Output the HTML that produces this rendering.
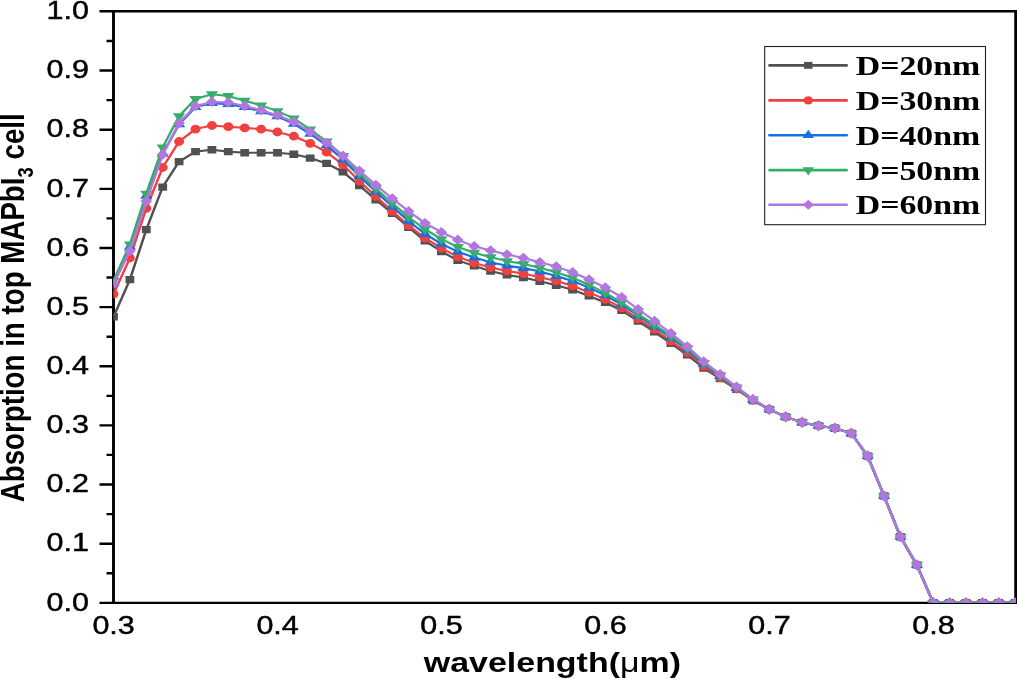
<!DOCTYPE html>
<html lang="en"><head><meta charset="utf-8"><title>Absorption in top MAPbI3 cell</title>
<style>
html,body{margin:0;padding:0;background:#fff;}
body{width:1017px;height:679px;overflow:hidden;}
svg{display:block;}
.tk{font-family:"Liberation Sans",Arial,sans-serif;font-size:25.4px;fill:#000;stroke:#000;stroke-width:0.45px;}
.ax{font-family:"Liberation Sans",Arial,sans-serif;font-size:24px;font-weight:bold;fill:#000;}
.lg{font-family:"Liberation Serif","Times New Roman",serif;font-size:26.6px;font-weight:bold;fill:#000;}
</style></head><body>
<svg width="1017" height="679" viewBox="0 0 1017 679">
<rect width="1017" height="679" fill="#fff"/>
<defs><clipPath id="plot"><rect x="113.5" y="11.2" width="902.4" height="591.4"/></clipPath></defs>
<g stroke="#000" fill="none" stroke-linecap="butt">
<path stroke-width="2.35" d="M99.5 11.2H1017M99.5 602.8H1017"/>
<path stroke-width="2.9" d="M113.5 10.1V604M1015.7 10.1V604"/>
<path stroke-width="2.35" d="M99.5 543.7H113.5M99.5 484.5H113.5M99.5 425.4H113.5M99.5 366.2H113.5M99.5 307.1H113.5M99.5 248H113.5M99.5 188.8H113.5M99.5 129.7H113.5M99.5 70.5H113.5M106.5 573.2H113.5M106.5 514.1H113.5M106.5 454.9H113.5M106.5 395.8H113.5M106.5 336.7H113.5M106.5 277.5H113.5M106.5 218.4H113.5M106.5 159.2H113.5M106.5 100.1H113.5M106.5 41H113.5"/>
</g>
<g clip-path="url(#plot)">
<polyline transform="scale(1.2 1)" points="94.58,316.8 108.25,279.6 121.91,229.6 135.57,187 149.23,161.6 162.90,151.6 176.56,149.8 190.22,151.6 203.88,152.7 217.55,152.7 231.21,152.7 244.87,154.3 258.53,158.1 272.20,163.4 285.86,172 299.52,185.6 313.18,199.8 326.85,213.3 340.51,227.3 354.17,240.9 367.83,251.5 381.50,260.4 395.16,266 408.82,271 422.48,274.9 436.15,277.5 449.81,281.3 463.47,285.3 477.13,289.8 490.80,296 504.46,302.5 518.12,310.5 531.78,321.1 545.45,331.9 559.11,343.4 572.77,354.9 586.43,368.1 600.10,378.7 613.76,389.3 627.42,400.5 641.08,409.4 654.75,416.9 668.41,422.4 682.07,425.7 695.73,428.2 709.40,433.3 723.06,456.1 736.72,496 750.38,536.8 764.05,565 777.71,602.8 791.37,602.8 805.03,602.8 818.70,602.8 832.36,602.8 846.02,602.8" fill="none" stroke="#515151" stroke-width="2.1" stroke-linejoin="round"/>
<path d="M109.1 313.1h8.8v7.3h-8.8zM125.5 275.9h8.8v7.3h-8.8zM141.9 226h8.8v7.3h-8.8zM158.3 183.4h8.8v7.3h-8.8zM174.7 158h8.8v7.3h-8.8zM191.1 147.9h8.8v7.3h-8.8zM207.5 146.1h8.8v7.3h-8.8zM223.9 147.9h8.8v7.3h-8.8zM240.3 149.1h8.8v7.3h-8.8zM256.7 149.1h8.8v7.3h-8.8zM273.1 149.1h8.8v7.3h-8.8zM289.4 150.6h8.8v7.3h-8.8zM305.8 154.4h8.8v7.3h-8.8zM322.2 159.7h8.8v7.3h-8.8zM338.6 168.3h8.8v7.3h-8.8zM355 181.9h8.8v7.3h-8.8zM371.4 196.1h8.8v7.3h-8.8zM387.8 209.7h8.8v7.3h-8.8zM404.2 223.6h8.8v7.3h-8.8zM420.6 237.2h8.8v7.3h-8.8zM437 247.9h8.8v7.3h-8.8zM453.4 256.7h8.8v7.3h-8.8zM469.8 262.3h8.8v7.3h-8.8zM486.2 267.4h8.8v7.3h-8.8zM502.6 271.2h8.8v7.3h-8.8zM519 273.9h8.8v7.3h-8.8zM535.4 277.6h8.8v7.3h-8.8zM551.8 281.7h8.8v7.3h-8.8zM568.2 286.1h8.8v7.3h-8.8zM584.6 292.3h8.8v7.3h-8.8zM600.9 298.8h8.8v7.3h-8.8zM617.3 306.8h8.8v7.3h-8.8zM633.7 317.5h8.8v7.3h-8.8zM650.1 328.3h8.8v7.3h-8.8zM666.5 339.8h8.8v7.3h-8.8zM682.9 351.2h8.8v7.3h-8.8zM699.3 364.5h8.8v7.3h-8.8zM715.7 375h8.8v7.3h-8.8zM732.1 385.7h8.8v7.3h-8.8zM748.5 396.9h8.8v7.3h-8.8zM764.9 405.8h8.8v7.3h-8.8zM781.3 413.3h8.8v7.3h-8.8zM797.7 418.8h8.8v7.3h-8.8zM814.1 422h8.8v7.3h-8.8zM830.5 424.6h8.8v7.3h-8.8zM846.9 429.7h8.8v7.3h-8.8zM863.3 452.5h8.8v7.3h-8.8zM879.7 492.3h8.8v7.3h-8.8zM896.1 533.1h8.8v7.3h-8.8zM912.5 561.3h8.8v7.3h-8.8zM928.9 599.1h8.8v7.3h-8.8zM945.2 599.1h8.8v7.3h-8.8zM961.6 599.1h8.8v7.3h-8.8zM978 599.1h8.8v7.3h-8.8zM994.4 599.1h8.8v7.3h-8.8zM1010.8 599.1h8.8v7.3h-8.8z" fill="#515151"/>
<polyline transform="scale(1.2 1)" points="94.58,294.1 108.25,258 121.91,208.3 135.57,167.5 149.23,141.5 162.90,129.1 176.56,125.5 190.22,126.7 203.88,127.9 217.55,129.1 231.21,132 244.87,136.2 258.53,143.3 272.20,152.2 285.86,164.6 299.52,181.1 313.18,196.5 326.85,211.3 340.51,225.5 354.17,238.1 367.83,248.2 381.50,256.8 395.16,262.9 408.82,267.5 422.48,271 436.15,273.6 449.81,277.2 463.47,280.9 477.13,285.8 490.80,292.4 504.46,299.4 518.12,307.8 531.78,318.9 545.45,329.3 559.11,341.2 572.77,352.6 586.43,366.2 600.10,377.5 613.76,389 627.42,400.2 641.08,409.4 654.75,416.9 668.41,422.4 682.07,425.7 695.73,428.2 709.40,433.3 723.06,456.1 736.72,496 750.38,536.8 764.05,565 777.71,602.8 791.37,602.8 805.03,602.8 818.70,602.8 832.36,602.8 846.02,602.8" fill="none" stroke="#F14040" stroke-width="2.1" stroke-linejoin="round"/>
<path d="M108.5 294.1a5.0 4.4 0 1 0 10 0a5.0 4.4 0 1 0 -10 0zM124.9 258a5.0 4.4 0 1 0 10 0a5.0 4.4 0 1 0 -10 0zM141.3 208.3a5.0 4.4 0 1 0 10 0a5.0 4.4 0 1 0 -10 0zM157.7 167.5a5.0 4.4 0 1 0 10 0a5.0 4.4 0 1 0 -10 0zM174.1 141.5a5.0 4.4 0 1 0 10 0a5.0 4.4 0 1 0 -10 0zM190.5 129.1a5.0 4.4 0 1 0 10 0a5.0 4.4 0 1 0 -10 0zM206.9 125.5a5.0 4.4 0 1 0 10 0a5.0 4.4 0 1 0 -10 0zM223.3 126.7a5.0 4.4 0 1 0 10 0a5.0 4.4 0 1 0 -10 0zM239.7 127.9a5.0 4.4 0 1 0 10 0a5.0 4.4 0 1 0 -10 0zM256.1 129.1a5.0 4.4 0 1 0 10 0a5.0 4.4 0 1 0 -10 0zM272.4 132a5.0 4.4 0 1 0 10 0a5.0 4.4 0 1 0 -10 0zM288.8 136.2a5.0 4.4 0 1 0 10 0a5.0 4.4 0 1 0 -10 0zM305.2 143.3a5.0 4.4 0 1 0 10 0a5.0 4.4 0 1 0 -10 0zM321.6 152.2a5.0 4.4 0 1 0 10 0a5.0 4.4 0 1 0 -10 0zM338 164.6a5.0 4.4 0 1 0 10 0a5.0 4.4 0 1 0 -10 0zM354.4 181.1a5.0 4.4 0 1 0 10 0a5.0 4.4 0 1 0 -10 0zM370.8 196.5a5.0 4.4 0 1 0 10 0a5.0 4.4 0 1 0 -10 0zM387.2 211.3a5.0 4.4 0 1 0 10 0a5.0 4.4 0 1 0 -10 0zM403.6 225.5a5.0 4.4 0 1 0 10 0a5.0 4.4 0 1 0 -10 0zM420 238.1a5.0 4.4 0 1 0 10 0a5.0 4.4 0 1 0 -10 0zM436.4 248.2a5.0 4.4 0 1 0 10 0a5.0 4.4 0 1 0 -10 0zM452.8 256.8a5.0 4.4 0 1 0 10 0a5.0 4.4 0 1 0 -10 0zM469.2 262.9a5.0 4.4 0 1 0 10 0a5.0 4.4 0 1 0 -10 0zM485.6 267.5a5.0 4.4 0 1 0 10 0a5.0 4.4 0 1 0 -10 0zM502 271a5.0 4.4 0 1 0 10 0a5.0 4.4 0 1 0 -10 0zM518.4 273.6a5.0 4.4 0 1 0 10 0a5.0 4.4 0 1 0 -10 0zM534.8 277.2a5.0 4.4 0 1 0 10 0a5.0 4.4 0 1 0 -10 0zM551.2 280.9a5.0 4.4 0 1 0 10 0a5.0 4.4 0 1 0 -10 0zM567.6 285.8a5.0 4.4 0 1 0 10 0a5.0 4.4 0 1 0 -10 0zM584 292.4a5.0 4.4 0 1 0 10 0a5.0 4.4 0 1 0 -10 0zM600.3 299.4a5.0 4.4 0 1 0 10 0a5.0 4.4 0 1 0 -10 0zM616.7 307.8a5.0 4.4 0 1 0 10 0a5.0 4.4 0 1 0 -10 0zM633.1 318.9a5.0 4.4 0 1 0 10 0a5.0 4.4 0 1 0 -10 0zM649.5 329.3a5.0 4.4 0 1 0 10 0a5.0 4.4 0 1 0 -10 0zM665.9 341.2a5.0 4.4 0 1 0 10 0a5.0 4.4 0 1 0 -10 0zM682.3 352.6a5.0 4.4 0 1 0 10 0a5.0 4.4 0 1 0 -10 0zM698.7 366.2a5.0 4.4 0 1 0 10 0a5.0 4.4 0 1 0 -10 0zM715.1 377.5a5.0 4.4 0 1 0 10 0a5.0 4.4 0 1 0 -10 0zM731.5 389a5.0 4.4 0 1 0 10 0a5.0 4.4 0 1 0 -10 0zM747.9 400.2a5.0 4.4 0 1 0 10 0a5.0 4.4 0 1 0 -10 0zM764.3 409.4a5.0 4.4 0 1 0 10 0a5.0 4.4 0 1 0 -10 0zM780.7 416.9a5.0 4.4 0 1 0 10 0a5.0 4.4 0 1 0 -10 0zM797.1 422.4a5.0 4.4 0 1 0 10 0a5.0 4.4 0 1 0 -10 0zM813.5 425.7a5.0 4.4 0 1 0 10 0a5.0 4.4 0 1 0 -10 0zM829.9 428.2a5.0 4.4 0 1 0 10 0a5.0 4.4 0 1 0 -10 0zM846.3 433.3a5.0 4.4 0 1 0 10 0a5.0 4.4 0 1 0 -10 0zM862.7 456.1a5.0 4.4 0 1 0 10 0a5.0 4.4 0 1 0 -10 0zM879.1 496a5.0 4.4 0 1 0 10 0a5.0 4.4 0 1 0 -10 0zM895.5 536.8a5.0 4.4 0 1 0 10 0a5.0 4.4 0 1 0 -10 0zM911.9 565a5.0 4.4 0 1 0 10 0a5.0 4.4 0 1 0 -10 0zM928.2 602.8a5.0 4.4 0 1 0 10 0a5.0 4.4 0 1 0 -10 0zM944.6 602.8a5.0 4.4 0 1 0 10 0a5.0 4.4 0 1 0 -10 0zM961 602.8a5.0 4.4 0 1 0 10 0a5.0 4.4 0 1 0 -10 0zM977.4 602.8a5.0 4.4 0 1 0 10 0a5.0 4.4 0 1 0 -10 0zM993.8 602.8a5.0 4.4 0 1 0 10 0a5.0 4.4 0 1 0 -10 0zM1010.2 602.8a5.0 4.4 0 1 0 10 0a5.0 4.4 0 1 0 -10 0z" fill="#F14040"/>
<polyline transform="scale(1.2 1)" points="94.58,282.9 108.25,246.8 121.91,195.9 135.57,153.9 149.23,124.4 162.90,107.2 176.56,103.1 190.22,104.2 203.88,107.2 217.55,111.3 231.21,116.4 244.87,123.8 258.53,133.8 272.20,145.4 285.86,159.5 299.52,176.2 313.18,191.5 326.85,206.3 340.51,221.3 354.17,233.8 367.83,243.8 381.50,251.7 395.16,257.5 408.82,262.2 422.48,265.7 436.15,268.1 449.81,271.6 463.47,276 477.13,280.9 490.80,287.6 504.46,295.4 518.12,304.7 531.78,315.8 545.45,326.6 559.11,337.6 572.77,350 586.43,364.2 600.10,376 613.76,388.1 627.42,399.7 641.08,409.4 654.75,416.9 668.41,422.4 682.07,425.7 695.73,428.2 709.40,433.3 723.06,456.1 736.72,496 750.38,536.8 764.05,565 777.71,602.8 791.37,602.8 805.03,602.8 818.70,602.8 832.36,602.8 846.02,602.8" fill="none" stroke="#1A6FDF" stroke-width="2.1" stroke-linejoin="round"/>
<path d="M113.5 277.1L119.6 285.8L107.4 285.8zM129.9 241L136 249.7L123.8 249.7zM146.3 190.1L152.4 198.8L140.2 198.8zM162.7 148.1L168.8 156.8L156.6 156.8zM179.1 118.6L185.2 127.3L173 127.3zM195.5 101.4L201.6 110.1L189.4 110.1zM211.9 97.3L218 106L205.8 106zM228.3 98.4L234.4 107.1L222.2 107.1zM244.7 101.4L250.8 110.1L238.6 110.1zM261.1 105.5L267.2 114.2L255 114.2zM277.4 110.6L283.6 119.3L271.3 119.3zM293.8 118L299.9 126.7L287.7 126.7zM310.2 128L316.3 136.7L304.1 136.7zM326.6 139.6L332.7 148.3L320.5 148.3zM343 153.7L349.1 162.4L336.9 162.4zM359.4 170.4L365.5 179.1L353.3 179.1zM375.8 185.7L381.9 194.4L369.7 194.4zM392.2 200.5L398.3 209.2L386.1 209.2zM408.6 215.5L414.7 224.2L402.5 224.2zM425 228L431.1 236.7L418.9 236.7zM441.4 238L447.5 246.7L435.3 246.7zM457.8 245.9L463.9 254.6L451.7 254.6zM474.2 251.7L480.3 260.4L468.1 260.4zM490.6 256.4L496.7 265.1L484.5 265.1zM507 259.9L513.1 268.6L500.9 268.6zM523.4 262.3L529.5 271L517.3 271zM539.8 265.8L545.9 274.5L533.7 274.5zM556.2 270.2L562.3 278.9L550.1 278.9zM572.6 275.1L578.7 283.8L566.5 283.8zM589 281.8L595.1 290.5L582.9 290.5zM605.3 289.6L611.4 298.3L599.2 298.3zM621.7 298.9L627.8 307.6L615.6 307.6zM638.1 310L644.2 318.7L632 318.7zM654.5 320.8L660.6 329.5L648.4 329.5zM670.9 331.8L677 340.5L664.8 340.5zM687.3 344.2L693.4 352.9L681.2 352.9zM703.7 358.4L709.8 367.1L697.6 367.1zM720.1 370.2L726.2 378.9L714 378.9zM736.5 382.3L742.6 391L730.4 391zM752.9 393.9L759 402.6L746.8 402.6zM769.3 403.6L775.4 412.3L763.2 412.3zM785.7 411.1L791.8 419.8L779.6 419.8zM802.1 416.6L808.2 425.3L796 425.3zM818.5 419.9L824.6 428.6L812.4 428.6zM834.9 422.4L841 431.1L828.8 431.1zM851.3 427.5L857.4 436.2L845.2 436.2zM867.7 450.3L873.8 459L861.6 459zM884.1 490.2L890.2 498.9L878 498.9zM900.5 531L906.6 539.7L894.4 539.7zM916.9 559.2L923 567.9L910.8 567.9zM933.2 597L939.4 605.7L927.1 605.7zM949.6 597L955.7 605.7L943.5 605.7zM966 597L972.1 605.7L959.9 605.7zM982.4 597L988.5 605.7L976.3 605.7zM998.8 597L1004.9 605.7L992.7 605.7zM1015.2 597L1021.3 605.7L1009.1 605.7z" fill="#1A6FDF"/>
<polyline transform="scale(1.2 1)" points="94.58,280.8 108.25,244.4 121.91,193.6 135.57,147.4 149.23,116.1 162.90,98.9 176.56,94.2 190.22,96 203.88,100.7 217.55,105.4 231.21,111.1 244.87,118.4 258.53,129.5 272.20,141.5 285.86,156 299.52,173.4 313.18,188.6 326.85,203 340.51,217.2 354.17,229.2 367.83,239.1 381.50,247 395.16,252.7 408.82,257.2 422.48,261.1 436.15,263.9 449.81,267.7 463.47,272.2 477.13,277.7 490.80,284.8 504.46,292.9 518.12,302.5 531.78,314.2 545.45,324.8 559.11,335.9 572.77,348.3 586.43,362.8 600.10,375.1 613.76,387.5 627.42,399.4 641.08,409.4 654.75,416.9 668.41,422.4 682.07,425.7 695.73,428.2 709.40,433.3 723.06,456.1 736.72,496 750.38,536.8 764.05,565 777.71,602.8 791.37,602.8 805.03,602.8 818.70,602.8 832.36,602.8 846.02,602.8" fill="none" stroke="#37AD6B" stroke-width="2.1" stroke-linejoin="round"/>
<path d="M113.5 286.6L119.6 277.9L107.4 277.9zM129.9 250.2L136 241.5L123.8 241.5zM146.3 199.4L152.4 190.7L140.2 190.7zM162.7 153.2L168.8 144.5L156.6 144.5zM179.1 121.9L185.2 113.2L173 113.2zM195.5 104.7L201.6 96L189.4 96zM211.9 100L218 91.3L205.8 91.3zM228.3 101.8L234.4 93.1L222.2 93.1zM244.7 106.5L250.8 97.8L238.6 97.8zM261.1 111.2L267.2 102.5L255 102.5zM277.4 116.9L283.6 108.2L271.3 108.2zM293.8 124.2L299.9 115.5L287.7 115.5zM310.2 135.3L316.3 126.6L304.1 126.6zM326.6 147.3L332.7 138.6L320.5 138.6zM343 161.8L349.1 153.1L336.9 153.1zM359.4 179.2L365.5 170.5L353.3 170.5zM375.8 194.4L381.9 185.7L369.7 185.7zM392.2 208.8L398.3 200.1L386.1 200.1zM408.6 223L414.7 214.3L402.5 214.3zM425 235L431.1 226.3L418.9 226.3zM441.4 244.9L447.5 236.2L435.3 236.2zM457.8 252.8L463.9 244.1L451.7 244.1zM474.2 258.5L480.3 249.8L468.1 249.8zM490.6 263L496.7 254.3L484.5 254.3zM507 266.9L513.1 258.2L500.9 258.2zM523.4 269.7L529.5 261L517.3 261zM539.8 273.5L545.9 264.8L533.7 264.8zM556.2 278L562.3 269.3L550.1 269.3zM572.6 283.5L578.7 274.8L566.5 274.8zM589 290.6L595.1 281.9L582.9 281.9zM605.3 298.7L611.4 290L599.2 290zM621.7 308.3L627.8 299.6L615.6 299.6zM638.1 320L644.2 311.3L632 311.3zM654.5 330.6L660.6 321.9L648.4 321.9zM670.9 341.7L677 333L664.8 333zM687.3 354.1L693.4 345.4L681.2 345.4zM703.7 368.6L709.8 359.9L697.6 359.9zM720.1 380.9L726.2 372.2L714 372.2zM736.5 393.3L742.6 384.6L730.4 384.6zM752.9 405.2L759 396.5L746.8 396.5zM769.3 415.2L775.4 406.5L763.2 406.5zM785.7 422.7L791.8 414L779.6 414zM802.1 428.2L808.2 419.5L796 419.5zM818.5 431.5L824.6 422.8L812.4 422.8zM834.9 434L841 425.3L828.8 425.3zM851.3 439.1L857.4 430.4L845.2 430.4zM867.7 461.9L873.8 453.2L861.6 453.2zM884.1 501.8L890.2 493.1L878 493.1zM900.5 542.6L906.6 533.9L894.4 533.9zM916.9 570.8L923 562.1L910.8 562.1zM933.2 608.6L939.4 599.9L927.1 599.9zM949.6 608.6L955.7 599.9L943.5 599.9zM966 608.6L972.1 599.9L959.9 599.9zM982.4 608.6L988.5 599.9L976.3 599.9zM998.8 608.6L1004.9 599.9L992.7 599.9zM1015.2 608.6L1021.3 599.9L1009.1 599.9z" fill="#37AD6B"/>
<polyline transform="scale(1.2 1)" points="94.58,284 108.25,250.9 121.91,201.2 135.57,154.5 149.23,123.2 162.90,106 176.56,101.9 190.22,102.5 203.88,106 217.55,110.2 231.21,115.2 244.87,122 258.53,132 272.20,142.9 285.86,155.7 299.52,170.7 313.18,185 326.85,198.6 340.51,211.3 354.17,223.1 367.83,232.2 381.50,239.9 395.16,246.2 408.82,250.5 422.48,254.5 436.15,258 449.81,262.3 463.47,266.6 477.13,272.2 490.80,279.5 504.46,287.6 518.12,297.2 531.78,309.2 545.45,321 559.11,333.2 572.77,346.5 586.43,361.5 600.10,374.3 613.76,386.7 627.42,399.2 641.08,409.4 654.75,416.9 668.41,422.4 682.07,425.7 695.73,428.2 709.40,433.3 723.06,456.1 736.72,496 750.38,536.8 764.05,565 777.71,602.8 791.37,602.8 805.03,602.8 818.70,602.8 832.36,602.8 846.02,602.8" fill="none" stroke="#B177DE" stroke-width="2.1" stroke-linejoin="round"/>
<path d="M113.5 278.8L119.3 284L113.5 289.3L107.7 284zM129.9 245.7L135.7 250.9L129.9 256.2L124 250.9zM146.3 196L152.1 201.2L146.3 206.5L140.4 201.2zM162.7 149.3L168.5 154.5L162.7 159.8L156.8 154.5zM179.1 117.9L184.9 123.2L179.1 128.4L173.2 123.2zM195.5 100.8L201.3 106L195.5 111.3L189.6 106zM211.9 96.6L217.7 101.9L211.9 107.1L206 101.9zM228.3 97.2L234.1 102.5L228.3 107.7L222.4 102.5zM244.7 100.8L250.5 106L244.7 111.3L238.8 106zM261.1 104.9L266.9 110.2L261.1 115.4L255.2 110.2zM277.4 109.9L283.3 115.2L277.4 120.4L271.6 115.2zM293.8 116.7L299.7 122L293.8 127.2L288 122zM310.2 126.8L316.1 132L310.2 137.3L304.4 132zM326.6 137.7L332.5 142.9L326.6 148.2L320.8 142.9zM343 150.5L348.9 155.7L343 161L337.2 155.7zM359.4 165.4L365.3 170.7L359.4 175.9L353.6 170.7zM375.8 179.7L381.7 185L375.8 190.2L370 185zM392.2 193.3L398.1 198.6L392.2 203.8L386.4 198.6zM408.6 206L414.5 211.3L408.6 216.5L402.8 211.3zM425 217.9L430.9 223.1L425 228.4L419.2 223.1zM441.4 227L447.2 232.2L441.4 237.5L435.5 232.2zM457.8 234.6L463.6 239.9L457.8 245.1L451.9 239.9zM474.2 240.9L480 246.2L474.2 251.4L468.3 246.2zM490.6 245.3L496.4 250.5L490.6 255.8L484.7 250.5zM507 249.2L512.8 254.5L507 259.7L501.1 254.5zM523.4 252.7L529.2 258L523.4 263.2L517.5 258zM539.8 257.1L545.6 262.3L539.8 267.6L533.9 262.3zM556.2 261.3L562 266.6L556.2 271.8L550.3 266.6zM572.6 267L578.4 272.2L572.6 277.5L566.7 272.2zM589 274.2L594.8 279.5L589 284.7L583.1 279.5zM605.3 282.3L611.2 287.6L605.3 292.8L599.5 287.6zM621.7 292L627.6 297.2L621.7 302.5L615.9 297.2zM638.1 304L644 309.2L638.1 314.5L632.3 309.2zM654.5 315.7L660.4 321L654.5 326.2L648.7 321zM670.9 327.9L676.8 333.2L670.9 338.4L665.1 333.2zM687.3 341.2L693.2 346.5L687.3 351.7L681.5 346.5zM703.7 356.3L709.6 361.5L703.7 366.8L697.9 361.5zM720.1 369L726 374.3L720.1 379.5L714.3 374.3zM736.5 381.5L742.4 386.7L736.5 392L730.7 386.7zM752.9 393.9L758.8 399.2L752.9 404.4L747.1 399.2zM769.3 404.2L775.1 409.4L769.3 414.7L763.4 409.4zM785.7 411.7L791.5 416.9L785.7 422.2L779.8 416.9zM802.1 417.2L807.9 422.4L802.1 427.7L796.2 422.4zM818.5 420.4L824.3 425.7L818.5 430.9L812.6 425.7zM834.9 423L840.7 428.2L834.9 433.5L829 428.2zM851.3 428.1L857.1 433.3L851.3 438.6L845.4 433.3zM867.7 450.9L873.5 456.1L867.7 461.4L861.8 456.1zM884.1 490.7L889.9 496L884.1 501.2L878.2 496zM900.5 531.5L906.3 536.8L900.5 542L894.6 536.8zM916.9 559.7L922.7 565L916.9 570.2L911 565zM933.2 597.5L939.1 602.8L933.2 608L927.4 602.8zM949.6 597.5L955.5 602.8L949.6 608L943.8 602.8zM966 597.5L971.9 602.8L966 608L960.2 602.8zM982.4 597.5L988.3 602.8L982.4 608L976.6 602.8zM998.8 597.5L1004.7 602.8L998.8 608L993 602.8zM1015.2 597.5L1021.1 602.8L1015.2 608L1009.4 602.8z" fill="#B177DE"/>
</g>
<text class="tk" text-anchor="end" transform="translate(88.9 610.5) scale(1.2 1)">0.0</text>
<text class="tk" text-anchor="end" transform="translate(88.9 551.4) scale(1.2 1)">0.1</text>
<text class="tk" text-anchor="end" transform="translate(88.9 492.2) scale(1.2 1)">0.2</text>
<text class="tk" text-anchor="end" transform="translate(88.9 433.1) scale(1.2 1)">0.3</text>
<text class="tk" text-anchor="end" transform="translate(88.9 373.9) scale(1.2 1)">0.4</text>
<text class="tk" text-anchor="end" transform="translate(88.9 314.8) scale(1.2 1)">0.5</text>
<text class="tk" text-anchor="end" transform="translate(88.9 255.7) scale(1.2 1)">0.6</text>
<text class="tk" text-anchor="end" transform="translate(88.9 196.5) scale(1.2 1)">0.7</text>
<text class="tk" text-anchor="end" transform="translate(88.9 137.4) scale(1.2 1)">0.8</text>
<text class="tk" text-anchor="end" transform="translate(88.9 78.2) scale(1.2 1)">0.9</text>
<text class="tk" text-anchor="end" transform="translate(88.9 19.1) scale(1.2 1)">1.0</text>
<text class="tk" text-anchor="middle" transform="translate(113.6 634.2) scale(1.2 1)">0.3</text>
<text class="tk" text-anchor="middle" transform="translate(277.6 634.2) scale(1.2 1)">0.4</text>
<text class="tk" text-anchor="middle" transform="translate(441.5 634.2) scale(1.2 1)">0.5</text>
<text class="tk" text-anchor="middle" transform="translate(605.4 634.2) scale(1.2 1)">0.6</text>
<text class="tk" text-anchor="middle" transform="translate(769.4 634.2) scale(1.2 1)">0.7</text>
<text class="tk" text-anchor="middle" transform="translate(933.4 634.2) scale(1.2 1)">0.8</text>
<text class="ax" style="font-size:27.6px" x="423.8" y="672" textLength="257.2" lengthAdjust="spacingAndGlyphs">wavelength(<tspan font-weight="normal">μ</tspan>m)</text>
<text class="ax" transform="translate(23.7 502.3) rotate(-90) scale(1 1.38)" textLength="389" lengthAdjust="spacingAndGlyphs">Absorption in top MAPbI<tspan font-size="16px" dy="7">3</tspan><tspan dy="-7"> cell</tspan></text>
<rect x="764.7" y="46.5" width="220.8" height="178.2" fill="#fff" stroke="#222" stroke-width="1.1"/>
<path d="M769.5 65.4H846.7" stroke="#515151" stroke-width="2.6" stroke-linecap="round" fill="none"/>
<path d="M804.1 61.9h8.4v6.9h-8.4z" fill="#515151"/>
<text class="lg" x="855.7" y="74.8" textLength="124.6" lengthAdjust="spacingAndGlyphs">D=20nm</text>
<path d="M769.5 100.4H846.7" stroke="#F14040" stroke-width="2.6" stroke-linecap="round" fill="none"/>
<path d="M803.5 100.4a4.75 4.18 0 1 0 9.5 0a4.75 4.18 0 1 0 -9.5 0z" fill="#F14040"/>
<text class="lg" x="855.7" y="109.8" textLength="124.6" lengthAdjust="spacingAndGlyphs">D=30nm</text>
<path d="M769.5 135.3H846.7" stroke="#1A6FDF" stroke-width="2.6" stroke-linecap="round" fill="none"/>
<path d="M808.3 129.8L814.1 138.1L802.5 138.1z" fill="#1A6FDF"/>
<text class="lg" x="855.7" y="144.7" textLength="124.6" lengthAdjust="spacingAndGlyphs">D=40nm</text>
<path d="M769.5 170.1H846.7" stroke="#37AD6B" stroke-width="2.6" stroke-linecap="round" fill="none"/>
<path d="M808.3 175.6L814.1 167.3L802.5 167.3z" fill="#37AD6B"/>
<text class="lg" x="855.7" y="179.5" textLength="124.6" lengthAdjust="spacingAndGlyphs">D=50nm</text>
<path d="M769.5 204.7H846.7" stroke="#B177DE" stroke-width="2.6" stroke-linecap="round" fill="none"/>
<path d="M808.3 199.7L813.9 204.7L808.3 209.7L802.7 204.7z" fill="#B177DE"/>
<text class="lg" x="855.7" y="214.1" textLength="124.6" lengthAdjust="spacingAndGlyphs">D=60nm</text>
</svg>
</body></html>
